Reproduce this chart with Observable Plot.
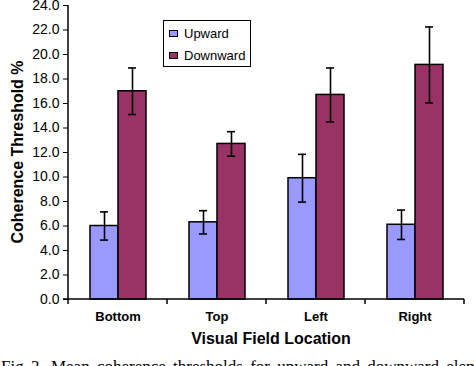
<!DOCTYPE html>
<html>
<head>
<meta charset="utf-8">
<script src="https://cdn.jsdelivr.net/npm/d3@7"></script>
<script src="https://cdn.jsdelivr.net/npm/@observablehq/plot@0.6"></script>
<style>
  html, body { margin: 0; padding: 0; background: #fff; overflow: hidden; }
  #wrap { position: relative; width: 474px; height: 366px; overflow: hidden; }
  #legend { position: absolute; left: 163px; top: 20px; width: 86px; height: 45px; border: 1.5px solid #000; background: #fff; font: 13px "Liberation Sans", Arial, sans-serif; color: #000; }
  #legend .item { position: absolute; left: 5px; height: 16px; line-height: 16px; white-space: nowrap; }
  #legend .sw { display: inline-block; width: 7px; height: 5px; border: 1.2px solid #000; margin-right: 6px; vertical-align: middle; position: relative; top: -1px; }
  #caption { position: absolute; left: 1px; top: 357px; font: 17px "Liberation Serif", "Times New Roman", serif; color: #000; white-space: nowrap; word-spacing: 3px; }
</style>
</head>
<body>
<div id="wrap">
  <div id="chart"></div>
  <div id="legend"></div>
  <div id="caption"></div>
</div>
<script>
const categories = ["Bottom", "Top", "Left", "Right"];
const series = ["Upward", "Downward"];
const upward = [6.0, 6.3, 9.9, 6.1];
const upwardErr = [1.15, 0.95, 1.95, 1.2];
const downward = [17.0, 12.7, 16.7, 19.15];
const downwardErr = [1.9, 1.0, 2.2, 3.1];
const colors = ["#9999FF", "#993366"];
const yTicks = [0, 2, 4, 6, 8, 10, 12, 14, 16, 18, 20, 22, 24];
const captionText = "Fig 3.  Mean coherence thresholds for upward and downward elements";

const data = [];
categories.forEach((c, i) => {
  data.push({cat: c, series: "Upward", value: upward[i], err: upwardErr[i]});
  data.push({cat: c, series: "Downward", value: downward[i], err: downwardErr[i]});
});

const font = '"Liberation Sans", Arial, sans-serif';

const chart = Plot.plot({
  width: 474,
  height: 352,
  marginLeft: 67,
  marginRight: 9,
  marginTop: 5,
  marginBottom: 53,
  style: {fontFamily: font, fontSize: "13px", color: "#000", background: "#fff", overflow: "visible"},
  fx: {domain: categories, padding: 0, label: null},
  x: {domain: series, paddingInner: 0, paddingOuter: 0.755, axis: null},
  y: {domain: [0, 24], ticks: yTicks, label: null},
  color: {domain: series, range: colors},
  marks: [
    Plot.barY(data, {fx: "cat", x: "series", y: "value", fill: "series", stroke: "#000", strokeWidth: 1.5}),
    Plot.ruleX(data, {fx: "cat", x: "series", y1: d => d.value - d.err, y2: d => d.value + d.err, stroke: "#000", strokeWidth: 1.6}),
    Plot.tickY(data, {fx: "cat", x: "series", y: d => d.value + d.err, stroke: "#000", strokeWidth: 1.6, insetLeft: 10, insetRight: 10}),
    Plot.tickY(data, {fx: "cat", x: "series", y: d => d.value - d.err, stroke: "#000", strokeWidth: 1.6, insetLeft: 10, insetRight: 10}),
    Plot.axisY({ticks: yTicks, tickFormat: d => d.toFixed(1), tickSize: 5, tickPadding: 4, fontSize: 14, label: null}),
    Plot.axisFx({anchor: "bottom", tickSize: 0, tickPadding: 12, fontSize: 13, fontWeight: "bold", label: null})
  ]
});

document.getElementById("chart").appendChild(chart);

// Axis lines and category boundary ticks derived from the plot's scales
const svg = d3.select(chart);
const fx = chart.scale("fx");
const y = chart.scale("y");
const x0 = fx.apply(categories[0]);
const bw = fx.bandwidth;
const xEnd = fx.apply(categories[categories.length - 1]) + bw;
const baseY = y.apply(0);
const topY = y.apply(24);
const g = svg.append("g").attr("stroke", "#000").attr("stroke-width", 1.5);
g.append("line").attr("x1", x0).attr("x2", x0).attr("y1", topY).attr("y2", baseY);
g.append("line").attr("x1", x0 - 5).attr("x2", xEnd).attr("y1", baseY).attr("y2", baseY);
const bounds = categories.map(c => fx.apply(c)).concat([xEnd]);
bounds.forEach(b => g.append("line").attr("x1", b).attr("x2", b).attr("y1", baseY).attr("y2", baseY + 5));

// axis titles
svg.append("text")
  .attr("x", (x0 + xEnd) / 2 + 5).attr("y", baseY + 45)
  .attr("text-anchor", "middle").attr("font-family", font).attr("font-size", 16).attr("font-weight", "bold")
  .text("Visual Field Location");
svg.append("text")
  .attr("transform", `translate(23,${(topY + baseY) / 2}) rotate(-90)`)
  .attr("text-anchor", "middle").attr("font-family", font).attr("font-size", 16).attr("font-weight", "bold")
  .text("Coherence Threshold %");

// legend
const legend = document.getElementById("legend");
series.forEach((s, i) => {
  const item = document.createElement("div");
  item.className = "item";
  item.style.top = (5 + i * 22) + "px";
  item.innerHTML = `<span class="sw" style="background:${colors[i]}"></span>${s}`;
  legend.appendChild(item);
});
document.getElementById("caption").textContent = captionText;
</script>
</body>
</html>
